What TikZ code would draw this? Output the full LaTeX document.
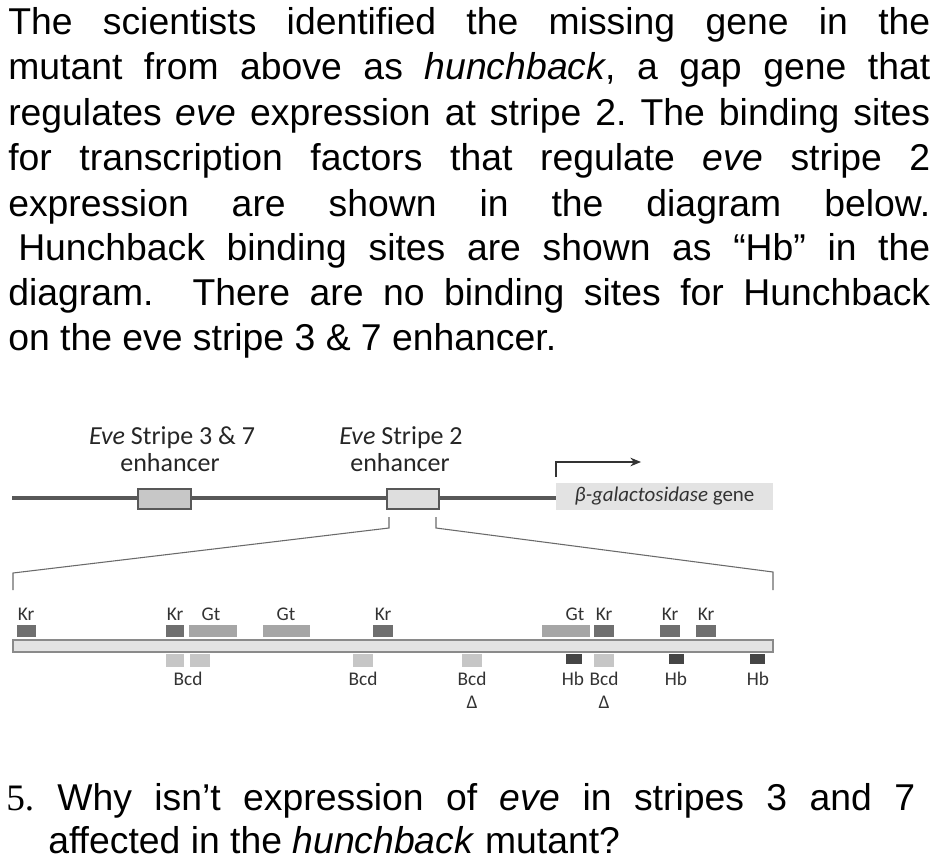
\documentclass[tikz,border=0pt]{standalone}
\usepackage{fontspec}
\setmainfont{Liberation Sans}
\newfontfamily\calib{Carlito}
\newfontfamily\tnr{Liberation Serif}
\newdimen\pxu \pxu=0.75pt
\usetikzlibrary{arrows.meta}
\definecolor{dnagray}{HTML}{585858}
\definecolor{krcol}{HTML}{6F6F6F}
\definecolor{gtcol}{HTML}{A6A6A6}
\definecolor{bcdcol}{HTML}{C6C6C6}
\definecolor{hbcol}{HTML}{454545}
\definecolor{barfill}{HTML}{E3E3E3}
\definecolor{barline}{HTML}{8A8A8A}
\definecolor{zoomline}{HTML}{6A6A6A}
\tikzset{
  para/.style={anchor=base west, inner sep=0pt, font=\fontsize{28}{34}\selectfont},
  lab/.style={anchor=base, inner sep=0pt, font=\calib\fontsize{19.5}{23}\selectfont, text=black!85},
  site/.style={anchor=base, inner sep=0pt, font=\calib\fontsize{14.5}{17}\selectfont, text=black!80},
  enhbox/.style={draw=dnagray, line width=0.9pt, minimum height=15pt, inner sep=0pt},
  zoomln/.style={draw=zoomline, line width=0.8pt},
}
\frenchspacing
\begin{document}
\begin{tikzpicture}[x=0.75pt,y=-0.75pt]
\useasboundingbox[fill=white] (0,0) rectangle (937,863);

% paragraph
\node[para] (l1) at (8,35)  {\makebox[922\pxu][s]{The scientists identified the missing gene in the}};
\node[para] (l2) at (8,80)  {\makebox[922\pxu][s]{mutant from above as \textit{hunchback}, a gap gene that}};
\node[para] (l3) at (8,126) {\makebox[922\pxu][s]{regulates \textit{eve} expression at stripe 2. The binding sites}};
\node[para] (l4) at (8,170) {\makebox[922\pxu][s]{for transcription factors that regulate \textit{eve} stripe 2}};
\node[para] (l5) at (8,216) {\makebox[922\pxu][s]{expression are shown in the diagram below.}};
\node[para] (l6) at (18,260) {\makebox[912\pxu][s]{Hunchback binding sites are shown as “Hb” in the}};
\node[para] (l7) at (8,305) {\makebox[922\pxu][s]{diagram.\ \ There are no binding sites for Hunchback}};
\node[para] (l8) at (8,350) {on the eve stripe 3 \& 7 enhancer.};

% enhancer labels
\node[lab] (t37a) at (172,444) {\textit{Eve} Stripe 3 \& 7};
\node[lab] (t37b) at (170,471) {enhancer};
\node[lab] (t2a) at (401,444) {\textit{Eve} Stripe 2};
\node[lab] (t2b) at (400,471) {enhancer};

% gene
\node[fill=barfill, minimum width=162.75pt, minimum height=20.25pt, inner sep=0pt,
      font=\calib\fontsize{15.7}{18}\selectfont, text=black!80] (gene) at (664.5,496.5)
      {\textit{β-galactosidase} gene};
\coordinate (dnaL) at (12,498);
\draw[dnagray, line width=3.6pt] (dnaL) -- (dnaL -| gene.west);
\node[enhbox, fill=black!22, minimum width=39.75pt] (e37) at (164.5,499) {};
\node[enhbox, fill=black!13, minimum width=39pt] (e2) at (413,499) {};

% promoter arrow
\coordinate (pr0) at (556,477);
\coordinate (pr1) at (641,462);
\draw[black!80, line width=0.9pt, -{Stealth[length=8pt,width=6.5pt]}] (pr0) |- (pr1);

% zoom lines
\coordinate (zl0) at (389,517);
\coordinate (zl1) at (389,528);
\coordinate (zl2) at (13,573);
\coordinate (zl3) at (13,590);
\coordinate (zr0) at (436,517);
\coordinate (zr1) at (436,528);
\coordinate (zr2) at (773,572);
\coordinate (zr3) at (773,590);
\draw[zoomln] (zl0) -- (zl1) -- (zl2) -- (zl3);
\draw[zoomln] (zr0) -- (zr1) -- (zr2) -- (zr3);

% enhancer bar
\node[draw=barline, fill=barfill, line width=0.9pt, minimum width=570pt, minimum height=9pt, inner sep=0pt] (bar) at (393,646) {};

% top sites
\fill[krcol] (17,625) rectangle (36,637);
\fill[krcol] (166,625) rectangle (184,637);
\fill[gtcol] (189,625) rectangle (237,637);
\fill[gtcol] (263,625) rectangle (310,637);
\fill[krcol] (373,625) rectangle (393,637);
\fill[gtcol] (542,625) rectangle (590,637);
\fill[krcol] (594,625) rectangle (614,637);
\fill[krcol] (660,625) rectangle (680,637);
\fill[krcol] (696,625) rectangle (716,637);

\node[site] (k1) at (26,620) {Kr};
\node[site] (k2) at (175,620) {Kr};
\node[site] (g1) at (211,620) {Gt};
\node[site] (g2) at (286,620) {Gt};
\node[site] (k3) at (383,620) {Kr};
\node[site] (g3) at (575,620) {Gt};
\node[site] (k4) at (604,620) {Kr};
\node[site] (k5) at (670,620) {Kr};
\node[site] (k6) at (706,620) {Kr};

% bottom sites
\fill[bcdcol] (166,654) rectangle (184,667);
\fill[bcdcol] (190,654) rectangle (210,667);
\fill[bcdcol] (353,654) rectangle (373,667);
\fill[bcdcol] (462,654) rectangle (482,667);
\fill[hbcol] (566,654) rectangle (582,664);
\fill[bcdcol] (594,654) rectangle (614,667);
\fill[hbcol] (669,654) rectangle (684,664);
\fill[hbcol] (750,654) rectangle (765,664);

\node[site] (b1) at (188,685) {Bcd};
\node[site] (b2) at (363,685) {Bcd};
\node[site] (b3) at (472,685) {Bcd};
\node[site] (d3) at (472,708) {Δ};
\node[site] (h1) at (573,685) {Hb};
\node[site] (b4) at (604,685) {Bcd};
\node[site] (d4) at (604,708) {Δ};
\node[site] (h2) at (676,685) {Hb};
\node[site] (h3) at (758,685) {Hb};

% question
\node[para, font=\tnr\fontsize{28}{34}\selectfont] (q0) at (6,810) {5.};
\node[para] (q1) at (57,810) {\makebox[858\pxu][s]{Why isn’t expression of \textit{eve} in stripes 3 and 7}};
\node[para] (q2) at (48,853) {affected in the \textit{hunchback} mutant?};
\end{tikzpicture}
\end{document}
